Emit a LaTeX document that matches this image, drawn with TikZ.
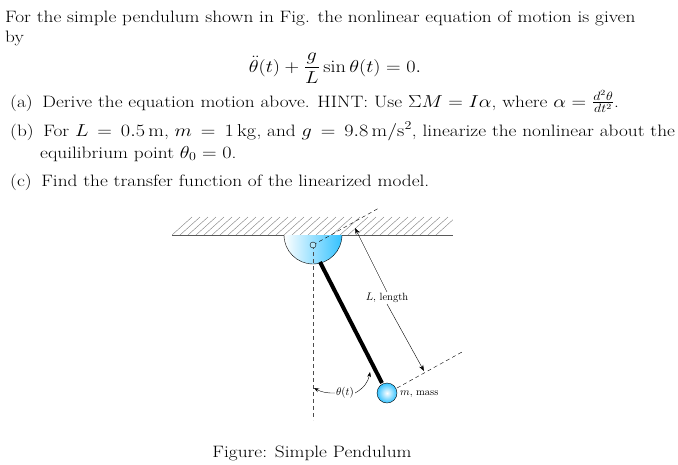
\documentclass[tikz,border=0pt]{standalone}
\usepackage{amsmath}
\usetikzlibrary{arrows.meta}
\newcommand{\hs}[1]{\scalebox{1.17}[1]{#1}}
\begin{document}
\begin{tikzpicture}[x=1pt,y=-1pt,
  txt/.style={anchor=base west,inner sep=0pt,font=\fontsize{16.5}{18}\selectfont},
  small/.style={inner sep=1pt,font=\fontsize{10.5}{11}\selectfont},
  dsh/.style={thin,dash pattern=on 4pt off 3pt}]
\useasboundingbox (0,0) rectangle (678,464);
\node[txt] (l1) at (5,22) {\hs{For the simple pendulum shown in Fig. the nonlinear equation of motion is given}};
\node[txt] (l2) at (5,42) {\hs{by}};
\node[txt,anchor=base] (eq) at (335,72) {\hs{$\ddot\theta(t)+\dfrac{g}{L}\sin\theta(t)=0.$}};
\node[txt] (a) at (10,107) {\hs{(a)\enspace Derive the equation motion above. HINT: Use $\Sigma M=I\alpha$, where $\alpha=\frac{d^2\theta}{dt^2}$.}};
\node[txt] (b) at (10,136) {\hs{(b)\enspace For $L\,=\,0.5\,\mathrm{m}$, $m\,=\,1\,\mathrm{kg}$, and $g\,=\,9.8\,\mathrm{m/s^2}$, linearize the nonlinear about the}};
\node[txt] (b2) at (40,158) {\hs{equilibrium point $\theta_0=0$.}};
\node[txt] (c) at (10,186) {\hs{(c)\enspace Find the transfer function of the linearized model.}};
% ceiling hatching
\foreach \x in {172,180,...,436} {
  \draw[gray,thin] (\x,235) -- ({\x+20},217);
}
\fill[white] (150,200) rectangle (172,240);
\fill[white] (453,200) rectangle (480,240);
\draw[gray!70!black] (172,235) -- (453,235);
% pivot housing
\shade[left color=white,right color=cyan!70!blue!80] (284,235) arc[start angle=180,end angle=0,radius=29] -- cycle;
\draw (284,235) arc[start angle=180,end angle=0,radius=29];
\coordinate (piv) at (313,245);
\draw[dsh,gray!60!black,semithick] (piv) -- (313,420);
\draw[dsh] (piv) -- (379,208);
% rod and bob
\draw[line width=4pt] (320,262) -- (382,383);
\shade[inner color=white,outer color=cyan!70!blue!80] (387,393) circle (10);
\draw (387,393) circle (10);
\node[circle,draw,fill=cyan!30,minimum size=6pt,inner sep=0pt] (pv) at (piv) {};
\draw[dsh] (397,388) -- (462,352);
% length dimension
\node[small] (Ll) at (387,298) {$L$, length};
\coordinate (d1) at (355,228); \coordinate (d2) at (424,371);
\draw[-{Stealth[length=6pt]}] (Ll.north) -- (d1);
\draw[-{Stealth[length=6pt]}] (Ll.south) -- (d2);
% angle
\node[small] (th) at (345,393) {$\theta(t)$};
\draw[-{Stealth[length=5pt]}] (th.west) to[bend left=15] (314,388);
\draw[-{Stealth[length=5pt]}] (th.east) to[bend right=25] (370,372);
\node[small,anchor=west] (mm) at (399,394) {$m$, mass};
\node[txt,anchor=base] (cap) at (312,457) {\hs{Figure: Simple Pendulum}};
\end{tikzpicture}
\end{document}
